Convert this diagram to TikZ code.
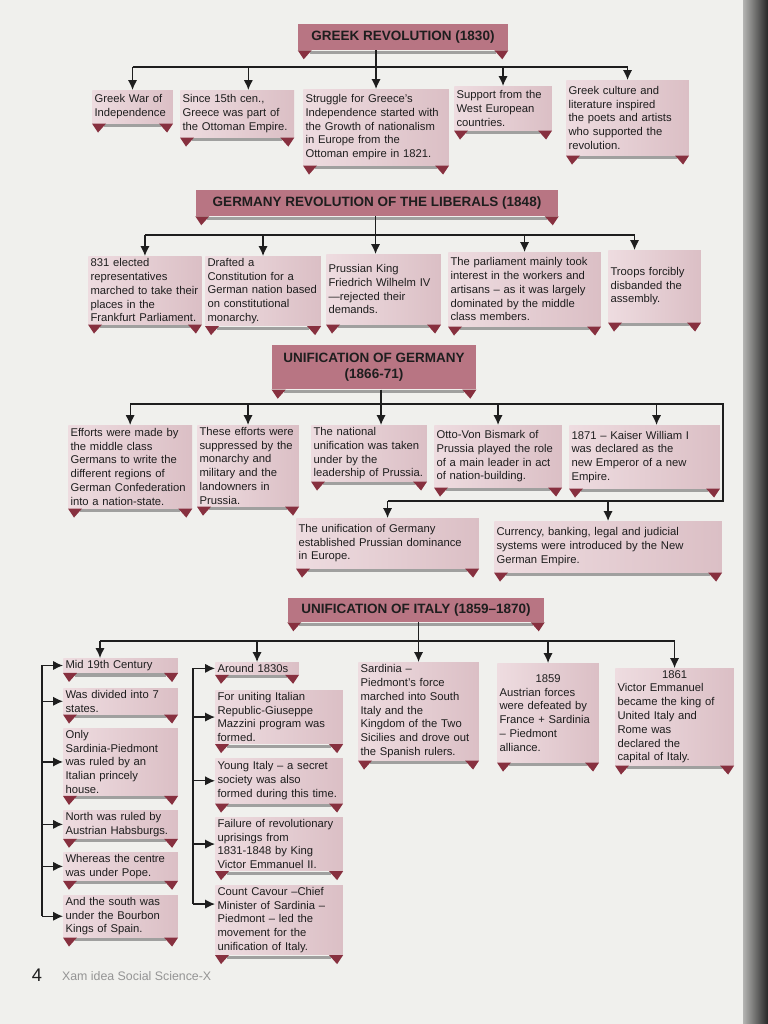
\documentclass[tikz,border=0pt]{standalone}
\usepackage{fontspec}
\setmainfont{Liberation Sans}
\usetikzlibrary{arrows.meta,calc,positioning}
\definecolor{ink}{HTML}{1E1E1E}
\definecolor{paper}{HTML}{F0F0ED}
\definecolor{rose}{HTML}{B87583}
\definecolor{blush}{HTML}{EEDCE0}
\definecolor{blushdark}{HTML}{DBBFC5}
\definecolor{fold}{HTML}{87303F}
\definecolor{rimgray}{HTML}{8C8C8C}
\tikzset{
  basebox/.style={rectangle,inner xsep=1.6pt,inner ysep=1.4pt,text=ink},
  factbox/.style={basebox,left color=blush,right color=blushdark,align=left,font=\fontsize{8}{9.8}\selectfont},
  headbox/.style={basebox,fill=rose,align=center,font=\fontsize{9.6}{11.5}\selectfont\bfseries},
  link/.style={line width=0.9pt,draw=ink},
  arrow/.style={link,-{Latex[length=7pt,width=6.5pt]}},
  rim/.style={line width=2.2pt,draw=rimgray,opacity=0.8},
  fold/.style={fill=fold}
}
\begin{document}
\begin{tikzpicture}[
    x=0.025cm,y=-0.025cm,
    fact/.style={factbox,anchor=north west},
    head/.style={headbox}
  ]
  \fill[paper] (0,0) rectangle (768,1024);
  \shade[left color=paper!75!black,right color=black!85] (743,0) rectangle (768,1024);
  \useasboundingbox (0,0) rectangle (768,1024);

  \node[head,minimum width=5.25cm,minimum height=0.65cm] (t1) at (403,37) {GREEK REVOLUTION (1830)};
  \node[fact,text width=1.9cm,minimum height=0.825cm] (g1) at (92,90) {Greek War of\\Independence};
  \node[fact,text width=2.73cm,minimum height=1.175cm] (g2) at (180,90) {Since 15th cen.,\\Greece was part of\\the Ottoman Empire.};
  \node[fact,text width=3.525cm,minimum height=1.9cm] (g3) at (303,89) {Struggle for Greece's\\Independence started with\\the Growth of nationalism\\in Europe from the\\Ottoman empire in 1821.};
  \node[fact,text width=2.325cm,minimum height=1.1cm] (g4) at (454,86) {Support from the\\West European\\countries.};
  \node[fact,text width=2.95cm,minimum height=1.875cm] (g5) at (566,80) {Greek culture and\\literature inspired\\the poets and artists\\who supported the\\revolution.};

  \node[head,minimum width=9.07cm,minimum height=0.65cm] (t2) at (377,203) {GERMANY REVOLUTION OF THE LIBERALS (1848)};
  \node[fact,text width=2.72cm,minimum height=1.7cm] (r1) at (88,256) {831 elected\\representatives\\marched to take their\\places in the\\Frankfurt Parliament.};
  \node[fact,text width=2.775cm,minimum height=1.7cm] (r2) at (205,256) {Drafted a\\Constitution for a\\German nation based\\on constitutional\\monarchy.};
  \node[fact,text width=2.75cm,minimum height=1.75cm] (r3) at (326,254) {Prussian King\\Friedrich Wilhelm IV\\—rejected their\\demands.};
  \node[fact,text width=3.7cm,minimum height=1.85cm] (r4) at (448,252) {The parliament mainly took\\interest in the workers and\\artisans – as it was largely\\dominated by the middle\\class members.};
  \node[fact,text width=2.2cm,minimum height=1.8cm] (r5) at (608,250) {Troops forcibly\\disbanded the\\assembly.};

  \node[head,minimum width=5.1cm,minimum height=1.12cm] (t3) at (374,367) {UNIFICATION OF GERMANY\\(1866-71)};
  \node[fact,text width=2.98cm,minimum height=2.075cm] (u1) at (68,425) {Efforts were made by\\the middle class\\Germans to write the\\different regions of\\German Confederation\\into a nation-state.};
  \node[fact,text width=2.425cm,minimum height=2cm] (u2) at (197,425) {These efforts were\\suppressed by the\\monarchy and\\military and the\\landowners in\\Prussia.};
  \node[fact,text width=2.775cm,minimum height=1.4cm] (u3) at (311,425) {The national\\unification was taken\\under by the\\leadership of Prussia.};
  \node[fact,text width=3.075cm,minimum height=1.55cm] (u4) at (434,425) {Otto-Von Bismark of\\Prussia played the role\\of a main leader in act\\of nation-building.};
  \node[fact,text width=3.65cm,minimum height=1.575cm] (u5) at (569,425) {1871 – Kaiser William I\\was declared as the\\new Emperor of a new\\Empire.};
  \node[fact,text width=4.45cm,minimum height=1.25cm] (u6) at (296,518) {The unification of Germany\\established Prussian dominance\\in Europe.};
  \node[fact,text width=5.575cm,minimum height=1.275cm] (u7) at (494,521) {Currency, banking, legal and judicial\\systems were introduced by the New\\German Empire.};
  \coordinate (turn) at (723,501);

  \node[head,minimum width=6.42cm,minimum height=0.6cm] (t4) at (416,610) {UNIFICATION OF ITALY (1859–1870)};
  \node[fact,text width=2.75cm] (ia1) at (63,658) {Mid 19th Century};
  \node[fact,text width=2.75cm,minimum height=0.65cm] (ia2) at (63,688) {Was divided into 7\\states.};
  \node[fact,text width=2.75cm,minimum height=1.675cm] (ia3) at (63,728) {Only\\Sardinia-Piedmont\\was ruled by an\\Italian princely\\house.};
  \node[fact,text width=2.75cm,minimum height=0.675cm] (ia4) at (63,810) {North was ruled by\\Austrian Habsburgs.};
  \node[fact,text width=2.75cm,minimum height=0.7cm] (ia5) at (63,852) {Whereas the centre\\was under Pope.};
  \node[fact,text width=2.75cm,minimum height=1cm] (ia6) at (63,895) {And the south was\\under the Bourbon\\Kings of Spain.};
  \node[fact,text width=1.975cm] (ib1) at (215,662) {Around 1830s};
  \node[fact,text width=3.075cm,minimum height=1.325cm] (ib2) at (215,690) {For uniting Italian\\Republic-Giuseppe\\Mazzini program was\\formed.};
  \node[fact,text width=3.075cm,minimum height=1.125cm] (ib3) at (215,758) {Young Italy – a secret\\society was also\\formed during this time.};
  \node[fact,text width=3.075cm,minimum height=1.325cm] (ib4) at (215,817) {Failure of revolutionary\\uprisings from\\1831-1848 by King\\Victor Emmanuel II.};
  \node[fact,text width=3.075cm,minimum height=1.675cm] (ib5) at (215,885) {Count Cavour –Chief\\Minister of Sardinia –\\Piedmont – led the\\movement for the\\unification of Italy.};
  \node[fact,text width=2.9cm,minimum height=2.45cm] (isard) at (358,662) {Sardinia –\\Piedmont's force\\marched into South\\Italy and the\\Kingdom of the Two\\Sicilies and drove out\\the Spanish rulers.};
  \node[fact,text width=2.425cm,minimum height=2.475cm] (i59) at (497,663) {\makebox[\linewidth]{1859}\\Austrian forces\\were defeated by\\France + Sardinia\\– Piedmont\\alliance.};
  \node[fact,text width=2.85cm,minimum height=2.425cm] (i61) at (615,668) {\makebox[\linewidth]{1861}\\Victor Emmanuel\\became the king of\\United Italy and\\Rome was\\declared the\\capital of Italy.};
  \coordinate (spineA) at (42,0);
  \coordinate (spineB) at (193,0);
  \coordinate (colA) at (100,0);

  \foreach \n in {t1,t2,t3,t4,g1,g2,g3,g4,g5,r1,r2,r3,r4,r5,u1,u2,u3,u4,u5,u6,u7,ia1,ia2,ia3,ia4,ia5,ia6,ib1,ib2,ib3,ib4,ib5,isard,i59,i61} {
    \draw[rim] ($(\n.south west)+(12,2)$) -- ($(\n.south east)+(-12,2)$);
    \fill[fold] (\n.south west) -- ++(14,0) -- ++(-8,9) -- cycle;
    \fill[fold] (\n.south east) -- ++(-14,0) -- ++(8,9) -- cycle;
  }

  \coordinate (bus1) at (0,67);
  \draw[arrow] (t1.south -| g3.north) -- (g3.north);
  \draw[link] (g1.north |- bus1) -- (g5.north |- bus1);
  \draw[arrow] (g1.north |- bus1) -- (g1.north);
  \draw[arrow] ([xshift=0.28cm]g2.north |- bus1) -- ([xshift=0.28cm]g2.north);
  \draw[arrow] (g4.north |- bus1) -- (g4.north);
  \draw[arrow] (g5.north |- bus1) -- (g5.north);

  \coordinate (bus2) at (0,235);
  \draw[arrow] ([xshift=-0.2cm]r3.north |- t2.south) -- ([xshift=-0.2cm]r3.north);
  \draw[link] (r1.north |- bus2) -- ([xshift=-0.5cm]r5.north |- bus2);
  \foreach \n in {r1,r2,r4} \draw[arrow] (\n.north |- bus2) -- (\n.north);
  \draw[arrow] ([xshift=-0.5cm]r5.north |- bus2) -- ([xshift=-0.5cm]r5.north);

  \coordinate (bus3) at (0,404);
  \draw[arrow] ([xshift=0.3cm]u3.north |- t3.south) -- ([xshift=0.3cm]u3.north);
  \draw[link] (u1.north |- bus3) -- (turn |- bus3) -- (turn) -- (u6.north |- turn);
  \foreach \n in {u1,u2,u4} \draw[arrow] (\n.north |- bus3) -- (\n.north);
  \draw[arrow] ([xshift=0.3cm]u5.north |- bus3) -- ([xshift=0.3cm]u5.north);
  \draw[arrow] (u6.north |- turn) -- (u6.north);
  \draw[arrow] (u7.north |- turn) -- (u7.north);

  \coordinate (bus4) at (0,641);
  \draw[arrow] (t4.south -| isard.north) -- (isard.north);
  \draw[link] (colA |- bus4) -- (i61.north |- bus4);
  \draw[arrow] (colA |- bus4) -- (colA |- ia1.north);
  \foreach \n in {ib1,i59,i61} \draw[arrow] (\n.north |- bus4) -- (\n.north);
  \draw[link] (spineA |- ia1.west) -- (spineA |- ia6.west);
  \foreach \n in {ia1,ia2,ia3,ia4,ia5,ia6} \draw[arrow] (spineA |- \n.west) -- (\n.west);
  \draw[link] (spineB |- ib1.west) -- ([yshift=0.4cm]spineB |- ib5.west);
  \foreach \n in {ib1,ib2,ib3,ib4} \draw[arrow] (spineB |- \n.west) -- (\n.west);
  \draw[arrow] ([yshift=0.4cm]spineB |- ib5.west) -- ([yshift=0.4cm]ib5.west);

  \node[font=\fontsize{13}{13}\selectfont,text=ink] (page) at (37,975) {4};
  \node[font=\fontsize{8.8}{10}\selectfont,text=black!42,right=0.25cm of page,yshift=-0.03cm] (book) {Xam idea Social Science-X};
\end{tikzpicture}
\end{document}
